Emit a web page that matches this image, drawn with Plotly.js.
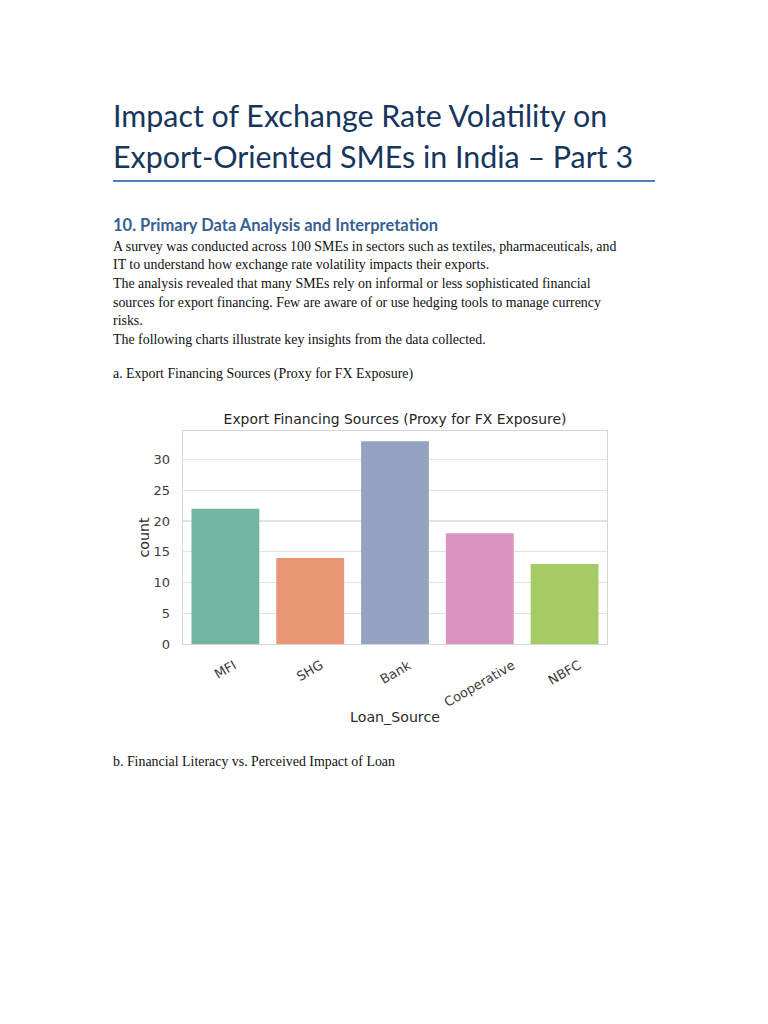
<!DOCTYPE html>
<html>
<head>
<meta charset="utf-8">
<script src="https://cdn.plot.ly/plotly-3.0.1.min.js"></script>
<style>
  html, body { margin: 0; padding: 0; background: #ffffff; }
  body { width: 768px; height: 1024px; position: relative; overflow: hidden; }
  .t { position: absolute; left: 113px; white-space: nowrap; }
  .h1 { font-family: Lato, "Open Sans", sans-serif; font-size: 30.4px; line-height: 30px; color: #17365d; }
  .h2 { font-family: Lato, "Open Sans", sans-serif; font-weight: bold; font-size: 16.5px; line-height: 17px; color: #365f91; }
  .p { font-family: "Liberation Serif", serif; font-size: 13.9px; line-height: 14px; color: #111; }
  .rule { position: absolute; left: 113px; top: 180px; width: 542px; height: 2px; background: #4f81bd; }
  #chart { position: absolute; left: 123px; top: 398px; width: 494px; height: 340px; }
</style>
</head>
<body>
<div class="t h1" style="top:100px">Impact of Exchange Rate Volatility on</div>
<div class="t h1" style="top:141px">Export-Oriented SMEs in India – Part 3</div>
<div class="rule"></div>
<div class="t h2" style="top:217px">10. Primary Data Analysis and Interpretation</div>
<div class="t p" style="top:240px">A survey was conducted across 100 SMEs in sectors such as textiles, pharmaceuticals, and</div>
<div class="t p" style="top:258px">IT to understand how exchange rate volatility impacts their exports.</div>
<div class="t p" style="top:277px">The analysis revealed that many SMEs rely on informal or less sophisticated financial</div>
<div class="t p" style="top:296px">sources for export financing. Few are aware of or use hedging tools to manage currency</div>
<div class="t p" style="top:314px">risks.</div>
<div class="t p" style="top:333px">The following charts illustrate key insights from the data collected.</div>
<div class="t p" style="top:367px">a. Export Financing Sources (Proxy for FX Exposure)</div>
<div id="chart"></div>
<div class="t p" style="top:755px">b. Financial Literacy vs. Perceived Impact of Loan</div>

<script>
const loanSources = ['MFI', 'SHG', 'Bank', 'Cooperative', 'NBFC'];
const loanCounts = [22, 14, 33, 18, 13];
const barColors = ['#72b6a1', '#e99675', '#95a3c3', '#da93bf', '#a4cb64'];
const yTicks = [0, 5, 10, 15, 20, 25, 30];

const chartFont = 'DejaVu Sans, sans-serif';

const trace = {
    type: 'bar',
    x: loanSources,
    y: loanCounts,
    width: 0.8,
    marker: { color: barColors, line: { width: 0 } },
    hoverinfo: 'x+y'
};

// rotated category labels, centred under each bar like matplotlib does
const xLabels = loanSources.map(name => ({
    x: name, xref: 'x',
    y: -0.05, yref: 'paper',
    text: name, showarrow: false,
    textangle: -30,
    xanchor: 'center', yanchor: 'top',
    font: { family: chartFont, size: 13, color: '#3d3d3d' }
}));

const layout = {
    width: 494, height: 340,
    paper_bgcolor: '#fefefe',
    plot_bgcolor: '#ffffff',
    margin: { t: 33, b: 94, l: 60, r: 10 },
    font: { family: chartFont, color: '#3d3d3d', size: 13 },
    showlegend: false,
    bargap: 0.2,
    title: {
        text: 'Export Financing Sources (Proxy for FX Exposure)',
        font: { family: chartFont, size: 13.9, color: '#262626' },
        x: 0.5, xref: 'paper', xanchor: 'center',
        y: 1, yref: 'container', yanchor: 'top', pad: { t: 16 }
    },
    xaxis: {
        type: 'category',
        range: [-0.5, 4.5],
        showticklabels: false,
        showgrid: false,
        zeroline: false,
        showline: true, mirror: true, linecolor: '#d6d6d6', linewidth: 1.4,
        ticks: '',
        title: { text: 'Loan_Source', font: { family: chartFont, size: 14.2, color: '#2b2b2b' }, standoff: 67 }
    },
    yaxis: {
        range: [0, 34.65],
        tickvals: yTicks,
        ticks: '',
        ticklabelstandoff: 9,
        tickfont: { family: chartFont, size: 13, color: '#3d3d3d' },
        showgrid: true, gridcolor: '#e3e3e3', gridwidth: 1.4,
        zeroline: false,
        showline: true, mirror: true, linecolor: '#d6d6d6', linewidth: 1.4,
        title: { text: 'count', font: { family: chartFont, size: 14.2, color: '#2b2b2b' }, standoff: 0 }
    },
    annotations: xLabels
};

Plotly.newPlot('chart', [trace], layout, { staticPlot: true, displayModeBar: false });
</script>
</body>
</html>
